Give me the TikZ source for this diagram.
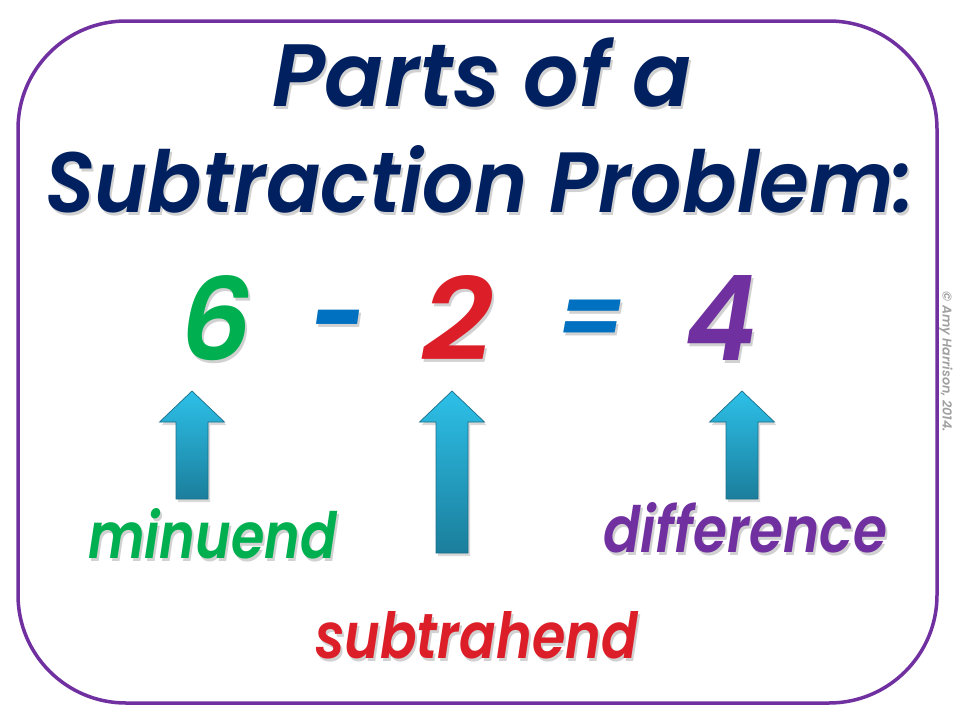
\documentclass[tikz,border=0pt]{standalone}
\usepackage{fontspec}
\setmainfont{Poppins}
\newfontfamily\psb{Poppins SemiBold Italic}
\usepackage{graphicx}
\definecolor{navy}{HTML}{002060}
\definecolor{mgreen}{HTML}{00B050}
\definecolor{mblue}{HTML}{0070C0}
\definecolor{mred}{HTML}{DC1E28}
\definecolor{mpurple}{HTML}{7030A0}
\definecolor{bpurple}{HTML}{7030A0}
\definecolor{arrtop}{HTML}{2DC0E8}
\definecolor{arrbot}{HTML}{1B7E9C}
\definecolor{arredge}{HTML}{1A6F8A}
\definecolor{cgray}{HTML}{A0A0A0}
\newcommand\cf{\fontsize{95}{100}\psb}
\newcommand\stext[7]{%
  \node[txt,text=black,opacity=.18,anchor=base west] at ({#2+2},{#3+3}) {\resizebox{#5pt}{#6pt}{\cf #7}};
  \node[txt,text=#4,anchor=base west] (#1) at (#2,#3) {\resizebox{#5pt}{#6pt}{\cf #7}};}
\newcommand\otext[7]{%
  \node[txt,text=black,opacity=.18,anchor=base] at ({#2+2},{#3+3}) {\scalebox{#5}[#6]{\fontsize{121}{121}\psb #7}};
  \node[txt,text=#4,anchor=base] (#1) at (#2,#3) {\scalebox{#5}[#6]{\fontsize{121}{121}\psb #7}};}
\tikzset{
  txt/.style={inner sep=0pt, outer sep=0pt},
  pics/blockup/.style={code={
    \fill[black,opacity=.15] (2,3) -- (34.5,34) -- (18,34) -- (18,{#1+3}) -- (-14,{#1+3}) -- (-14,34) -- (-30.5,34) -- cycle;
    \shade[top color=arrtop,bottom color=arrbot,draw=arredge,line width=0.7pt]
      (0,0) -- (32.5,31) -- (16,31) -- (16,#1) -- (-16,#1) -- (-16,31) -- (-32.5,31) -- cycle;}}
}
\begin{document}
\begin{tikzpicture}[x=1pt,y=-1pt]
\useasboundingbox (0,0) rectangle (960,720);
\fill[white] (0,0) rectangle (960,720);
\draw[bpurple,line width=3.5pt,rounded corners=108pt] (18,21) rectangle (937,703);
% title
\stext{t1}{272}{106}{navy}{420}{69}{Parts of a}
\stext{t2}{45}{212}{navy}{870}{67}{Subtraction Problem:}
% equation
\stext{n6}{180}{360}{mgreen}{72}{85}{6}
\otext{minus}{338}{360}{mblue}{0.8}{1}{-}
\stext{n2}{422}{360}{mred}{71}{85}{2}
\otext{eq}{591}{348}{mblue}{0.78}{0.745}{=}
\stext{n4}{685}{360}{mpurple}{72}{85}{4}
% arrows
\coordinate (a1) at (192,391);
\coordinate (a2) at (452,391);
\coordinate (a3) at (742,391);
\pic at (a1) {blockup=108};
\pic at (a2) {blockup=162};
\pic at (a3) {blockup=108};
% labels
\stext{lmin}{88}{558}{mgreen}{249}{50}{minuend}
\stext{lsub}{315}{658}{mred}{323}{47}{subtrahend}
\stext{ldif}{603}{552}{mpurple}{284}{50}{difference}
% copyright
\node[txt,rotate=-90,text=cgray] (copy) at (946,362) {\resizebox{140pt}{!}{\fontsize{11}{11}\psb © Amy Harrison, 2014.}};
\end{tikzpicture}
\end{document}
